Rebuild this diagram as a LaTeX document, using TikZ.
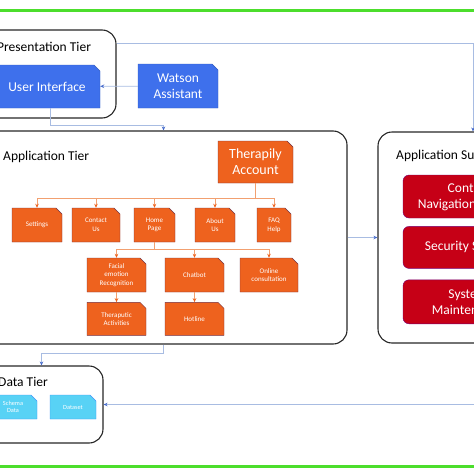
\documentclass[tikz,border=0pt]{standalone}
\usepackage{fontspec}
\setmainfont{Carlito}
\usepackage{xcolor}
\usetikzlibrary{positioning, shapes.misc, arrows.meta}

\definecolor{uiblue}{RGB}{62,112,236}
\definecolor{thorange}{RGB}{238,98,30}
\definecolor{supred}{RGB}{198,0,22}
\definecolor{datacyan}{RGB}{88,210,245}
\definecolor{bargreen}{RGB}{76,222,44}
\definecolor{linkblue}{RGB}{168,188,226}
\definecolor{tipblue}{RGB}{72,108,204}
\definecolor{linkorange}{RGB}{242,160,112}

\begin{document}
\begin{tikzpicture}[x=1pt, y=-1pt, node distance=0pt,
      tier/.style = {draw=black!85, line width=1.1pt, rounded corners=14pt, inner sep=0pt},
      tiername/.style = {anchor=west, inner sep=0pt, font=\fontsize{13.5}{15}\selectfont},
      snip/.style = {chamfered rectangle, chamfered rectangle corners=north east,
                     chamfered rectangle xsep=3pt, chamfered rectangle ysep=3pt,
                     inner sep=1pt, align=center, text=white},
      UI/.style = {snip, fill=uiblue, draw=uiblue!80!black, font=\fontsize{13.5}{15.5}\selectfont},
      TA/.style = {snip, fill=thorange, draw=thorange!60!black!80!blue,
                   font=\fontsize{7}{8.6}\selectfont},
      DS/.style = {snip, fill=datacyan, draw=datacyan!70!blue, minimum height=24pt,
                   font=\fontsize{6.3}{7.5}\selectfont},
      SUP/.style = {rectangle, rounded corners=6pt, fill=supred, draw=supred!60!blue,
                    text=white, align=center, minimum width=130pt,
                    font=\fontsize{13.5}{16}\selectfont},
      link/.style = {draw=linkblue, line width=0.8pt,
                     -{Stealth[length=4pt, width=3.5pt, color=tipblue]}},
      branch/.style = {draw=linkorange, line width=0.8pt,
                       -{Stealth[length=4pt, width=3.5pt, color=thorange]}} ]

\useasboundingbox (0,0) rectangle (474,474);
\clip (0,0) rectangle (474,474);

\draw[bargreen, line width=3pt] (0,10) -- (474,10);
\draw[bargreen, line width=3pt] (0,466) -- (474,466);

% tiers
\node[tier, minimum width=136pt, minimum height=88pt]  (prestier)   at (48,74) {};
\node[tier, minimum width=367pt, minimum height=213pt] (apptier)    at (163.5,237.5) {};
\node[tier, minimum width=123pt, minimum height=77pt]  (datatier)   at (41.5,404.5) {};
\node[tier, minimum width=190pt, minimum height=211pt] (appsupport) at (473,237.5) {};

\node[tiername] (presname)  at (-3,47)  {Presentation Tier};
\node[tiername] (appname)   at (3,157)  {Application Tier};
\node[tiername] (dataname)  at (-2,382) {Data Tier};
\node[tiername] (supname)   at (396,156) {Application Support};

% presentation
\node[UI, minimum width=106pt, minimum height=43pt] (ui)     at (47,86.5) {User Interface};
\node[UI, minimum width=80pt, minimum height=44pt]  (watson) at (178,86)   {Watson\\Assistant};

% application
\node[TA, minimum width=75pt, minimum height=42pt, font=\fontsize{14}{16}\selectfont]
      (acct) at (255.5,162) {Therapily\\Account};
\node[TA, minimum width=50pt, minimum height=34pt] (settings) at (37,225)    {Settings};
\node[TA, minimum width=48pt, minimum height=34pt] (contact)  at (96,225)    {Contact\\Us};
\node[TA, minimum width=41pt, minimum height=34pt] (home)     at (154.5,225) {Home\\Page};
\node[TA, minimum width=40pt, minimum height=34pt] (about)    at (215,225)   {About\\Us};
\node[TA, minimum width=34pt, minimum height=34pt] (faq)      at (274,225)   {FAQ\\Help};
\node[TA, minimum width=59pt, minimum height=34pt] (facial)   at (116.5,275) {Facial\\emotion\\Recognition};
\node[TA, minimum width=59pt, minimum height=34pt] (chatbot)  at (194.5,275) {Chatbot};
\node[TA, minimum width=58pt, minimum height=34pt] (online)   at (269,275)   {Online\\consultation};
\node[TA, minimum width=59pt, minimum height=33pt, below=10pt of facial]  (therap)  {Theraputic\\Activities};
\node[TA, minimum width=59pt, minimum height=33pt, below=10pt of chatbot] (hotline) {Hotline};

% data
\node[DS, minimum width=48pt] (schema)  at (13,407) {Schema\\Data};
\node[DS, minimum width=46pt] (dataset) at (73,407) {Dataset};

% support
\node[SUP, minimum height=43pt] (ctrl) at (468,196.5) {Control\\Navigation System};
\node[SUP, minimum height=42pt, below=8pt of ctrl]      (security) {Security System};
\node[SUP, minimum height=44pt, below=11pt of security] (system)   {System\\Maintenance};

\foreach \c in {settings,contact,home,about,faq}
  \draw[branch] (acct.south) -- ++(0,15) -| (\c.north);
\foreach \c in {facial,chatbot,online}
  \draw[branch] (home.south) -- ++(0,7) -| (\c.north);
\draw[branch] (facial) -- (therap);
\draw[branch] (chatbot) -- (hotline);

\coordinate (feed) at (480,404.5);
\draw[link] (watson) -- (ui);
\draw[link] ([yshift=-14pt]prestier.north east) -| (appsupport.north);
\draw[link] ([xshift=3pt]ui.south) -- ++(0,17) -| (apptier.north);
\draw[link] (apptier) -- (appsupport);
\draw[link] (apptier.south) -- ++(0,9) -| (datatier.north);
\draw[link] (feed) -- (datatier.east);
\end{tikzpicture}
\end{document}
